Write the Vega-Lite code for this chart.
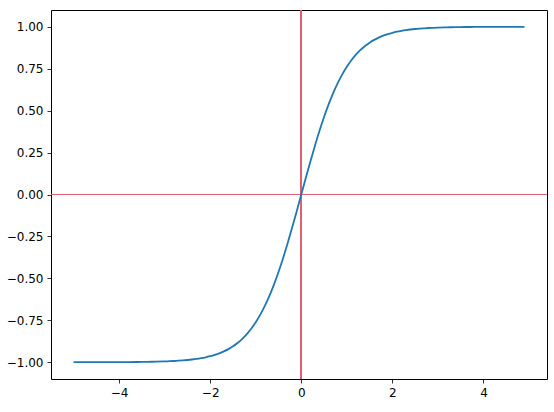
{
  "$schema": "https://vega.github.io/schema/vega-lite/v6.json",
  "autosize": "none",
  "width": 496,
  "height": 369,
  "padding": {"left": 51, "top": 10, "right": 7, "bottom": 33},
  "background": "white",
  "config": {
    "view": {"stroke": "black", "strokeWidth": 1},
    "axis": {
      "grid": false,
      "domain": false,
      "tickColor": "black",
      "tickSize": 4,
      "tickWidth": 0.8,
      "labelFont": "DejaVu Sans",
      "labelFontSize": 12,
      "labelColor": "black",
      "labelPadding": 4,
      "title": null
    }
  },
  "data": {
    "values": [
      {"x": -5.0, "y": -0.9999}, {"x": -4.5, "y": -0.9998}, {"x": -4.0, "y": -0.9993},
      {"x": -3.8, "y": -0.9990}, {"x": -3.6, "y": -0.9985}, {"x": -3.4, "y": -0.9978},
      {"x": -3.2, "y": -0.9967}, {"x": -3.0, "y": -0.9951}, {"x": -2.9, "y": -0.9940},
      {"x": -2.8, "y": -0.9926}, {"x": -2.7, "y": -0.9910}, {"x": -2.6, "y": -0.9890},
      {"x": -2.5, "y": -0.9866}, {"x": -2.4, "y": -0.9837}, {"x": -2.3, "y": -0.9801},
      {"x": -2.2, "y": -0.9757}, {"x": -2.1, "y": -0.9705}, {"x": -2.0, "y": -0.9640},
      {"x": -1.9, "y": -0.9562}, {"x": -1.8, "y": -0.9468}, {"x": -1.7, "y": -0.9354},
      {"x": -1.6, "y": -0.9217}, {"x": -1.5, "y": -0.9051}, {"x": -1.4, "y": -0.8854},
      {"x": -1.3, "y": -0.8617}, {"x": -1.2, "y": -0.8337}, {"x": -1.1, "y": -0.8005},
      {"x": -1.0, "y": -0.7616}, {"x": -0.9, "y": -0.7163}, {"x": -0.8, "y": -0.6640},
      {"x": -0.7, "y": -0.6044}, {"x": -0.6, "y": -0.5370}, {"x": -0.5, "y": -0.4621},
      {"x": -0.4, "y": -0.3799}, {"x": -0.3, "y": -0.2913}, {"x": -0.2, "y": -0.1974},
      {"x": -0.1, "y": -0.0997}, {"x": 0.0, "y": 0.0}, {"x": 0.1, "y": 0.0997},
      {"x": 0.2, "y": 0.1974}, {"x": 0.3, "y": 0.2913}, {"x": 0.4, "y": 0.3799},
      {"x": 0.5, "y": 0.4621}, {"x": 0.6, "y": 0.5370}, {"x": 0.7, "y": 0.6044},
      {"x": 0.8, "y": 0.6640}, {"x": 0.9, "y": 0.7163}, {"x": 1.0, "y": 0.7616},
      {"x": 1.1, "y": 0.8005}, {"x": 1.2, "y": 0.8337}, {"x": 1.3, "y": 0.8617},
      {"x": 1.4, "y": 0.8854}, {"x": 1.5, "y": 0.9051}, {"x": 1.6, "y": 0.9217},
      {"x": 1.7, "y": 0.9354}, {"x": 1.8, "y": 0.9468}, {"x": 1.9, "y": 0.9562},
      {"x": 2.0, "y": 0.9640}, {"x": 2.1, "y": 0.9705}, {"x": 2.2, "y": 0.9757},
      {"x": 2.3, "y": 0.9801}, {"x": 2.4, "y": 0.9837}, {"x": 2.5, "y": 0.9866},
      {"x": 2.6, "y": 0.9890}, {"x": 2.7, "y": 0.9910}, {"x": 2.8, "y": 0.9926},
      {"x": 2.9, "y": 0.9940}, {"x": 3.0, "y": 0.9951}, {"x": 3.2, "y": 0.9967},
      {"x": 3.4, "y": 0.9978}, {"x": 3.6, "y": 0.9985}, {"x": 3.8, "y": 0.9990},
      {"x": 4.0, "y": 0.9993}, {"x": 4.5, "y": 0.9998}, {"x": 4.9, "y": 0.9999}
    ]
  },
  "layer": [
    {
      "mark": {"type": "rule", "color": "#e06070", "strokeWidth": 0.6},
      "encoding": {"x": {"datum": 0, "type": "quantitative"}}
    },
    {
      "mark": {"type": "rule", "color": "#e06070", "strokeWidth": 0.6},
      "encoding": {"y": {"datum": 0, "type": "quantitative"}}
    },
    {
      "mark": {"type": "line", "color": "#1f77b4", "strokeWidth": 1.8, "interpolate": "monotone"},
      "encoding": {
        "x": {
          "field": "x", "type": "quantitative",
          "scale": {"domain": [-5.495, 5.395], "nice": false, "zero": false},
          "axis": {"values": [-4, -2, 0, 2, 4], "format": "d"}
        },
        "y": {
          "field": "y", "type": "quantitative",
          "scale": {"domain": [-1.1, 1.1], "nice": false, "zero": false},
          "axis": {"values": [-1, -0.75, -0.5, -0.25, 0, 0.25, 0.5, 0.75, 1], "format": ".2f"}
        }
      }
    }
  ]
}
